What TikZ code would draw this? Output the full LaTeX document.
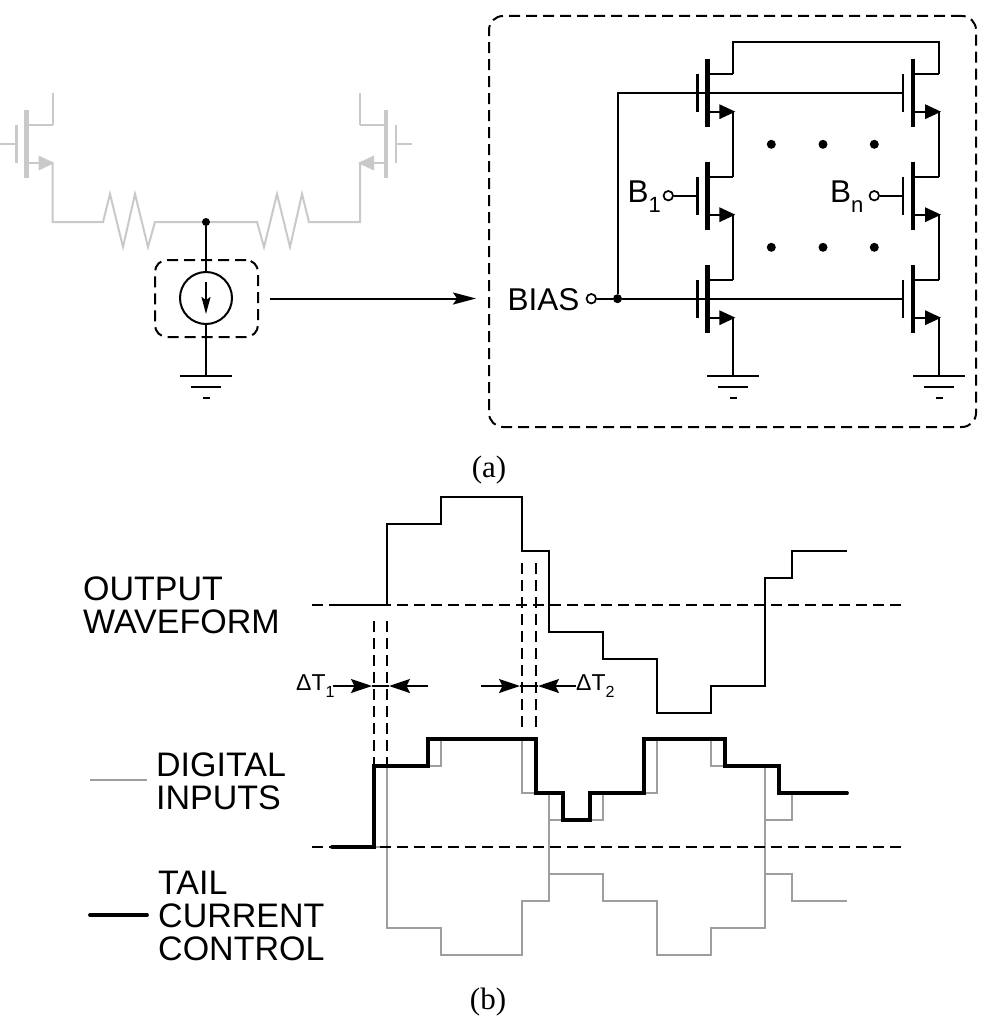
\documentclass[tikz,border=0pt]{standalone}
\usepackage{fontspec}
\setmainfont{Liberation Sans}
\newfontfamily\capfont{Liberation Serif}
\usetikzlibrary{arrows.meta}
\definecolor{lightgr}{gray}{0.79}
\definecolor{midgr}{gray}{0.62}
\newcommand{\subt}[1]{\raisebox{-0.32em}{\fontsize{0.7em}{0.7em}\selectfont #1}}
\tikzset{
  wire/.style={line width=2pt,line join=miter},
  dash box/.style={wire,dash pattern=on 11pt off 6pt,rounded corners=12pt},
  dash thin/.style={wire,dash pattern=on 10.5pt off 6.5pt},
  lab/.style={font=\fontsize{34}{34}\selectfont,inner sep=0pt,anchor=west},
  pinlab/.style={font=\fontsize{31.5}{31.5}\selectfont,inner sep=0pt,anchor=west},
  small lab/.style={font=\fontsize{23}{23}\selectfont,inner sep=0pt},
  caplab/.style={font=\capfont\fontsize{31}{31}\selectfont,inner sep=0pt},
  opendot/.style={circle,draw=black,line width=1.7pt,fill=white,inner sep=0pt,minimum size=9.5pt},
  soliddot/.style={circle,fill=black,inner sep=0pt,minimum size=9pt},
  head/.style={-{Stealth[length=21pt,width=14pt,inset=3.5pt]}},
}
% name, channel x, gate y, direction (1 or -1), colour
\newcommand{\mosdev}[5]{%
  \begin{scope}[shift={(#2,#3)},xscale=#4,#5]
    \coordinate (#1-g) at (-10,0);
    \coordinate (#1-d) at (26,-19);
    \coordinate (#1-s) at (26,19);
    \draw[line width=4.7pt] (0,-34) -- (0,34);
    \draw[line width=2.7pt] (-10,-19) -- (-10,19);
    \draw[wire] (0,-19) -- (#1-d);
    \draw[wire] (0,19) -- (14,19);
    \fill (12,11.5) -- (28,19) -- (12,26.5) -- cycle;
  \end{scope}}
% name, x, y
\newcommand{\gnddev}[3]{%
  \coordinate (#1) at (#2,#3);
  \draw[wire] (#2-26,#3) -- (#2+26,#3);
  \draw[wire] (#2-15,#3+11) -- (#2+15,#3+11);
  \draw[wire] (#2-3.5,#3+22) -- (#2+3.5,#3+22);}
\begin{document}
\begin{tikzpicture}[x=1pt,y=-1pt]
\useasboundingbox (0,0) rectangle (998,1025);
\fill[white] (0,0) rectangle (998,1025);

% ---- left circuit
\mosdev{ml}{26.5}{144}{1}{lightgr}
\mosdev{mr}{386}{144}{-1}{lightgr}
\coordinate (tail) at (206,222);
\begin{scope}[draw=lightgr]
\draw[wire] (0,144) -- (ml-g);
\draw[wire] (ml-d) -- ++(0,-32.5);
\draw[wire] (ml-s) -- (52.5,222) -- (103,222) -- (110,194) -- (123,247) -- (135,194) -- (148,247) -- (155,222) -- (tail);
\draw[wire] (412,144) -- (mr-g);
\draw[wire] (mr-d) -- ++(0,-32.5);
\draw[wire] (mr-s) -- (360,222) -- (309,222) -- (302,194) -- (290,247) -- (277,194) -- (264,247) -- (257,222) -- (tail);
\end{scope}
\node[soliddot,minimum size=8pt] (tailDot) at (tail) {};
\node[circle,draw=black,line width=2pt,minimum size=52pt,inner sep=0pt] (src) at (206,298) {};
\gnddev{gndA}{206}{375.5}
\draw[wire] (tailDot) -- (src);
\draw[wire] (src) -- (gndA);
\coordinate (srcT) at (206,282);
\coordinate (srcB) at (206,314);
\draw[wire,-{Stealth[length=17pt,width=9pt,inset=3pt]}] (srcT) -- (srcB);
\node[draw=black,dash box,minimum width=103pt,minimum height=77pt,inner sep=0pt] (srcBox) at (206.5,298.5) {};
\coordinate (arrA) at (270,298.5);
\coordinate (arrB) at (476,298.5);
\draw[wire,-{Stealth[length=23pt,width=12pt,inset=4pt]}] (arrA) -- (arrB);

% ---- right circuit box
\node[draw=black,dash box,rounded corners=14pt,minimum width=487pt,minimum height=411pt,inner sep=0pt] (bigBox) at (732.5,221.5) {};
\mosdev{a1}{707.3}{92.7}{1}{black}
\mosdev{a2}{707.3}{195.7}{1}{black}
\mosdev{a3}{707.3}{298.7}{1}{black}
\mosdev{b1}{913}{92.7}{1}{black}
\mosdev{b2}{913}{195.7}{1}{black}
\mosdev{b3}{913}{298.7}{1}{black}
\gnddev{gndB}{733.3}{375.7}
\gnddev{gndC}{939}{375.7}
\draw[wire] (a1-d) -- (733.3,42) -- (939,42) -- (b1-d);
\draw[wire] (a1-s) -- (a2-d);
\draw[wire] (a2-s) -- (a3-d);
\draw[wire] (a3-s) -- (gndB);
\draw[wire] (b1-s) -- (b2-d);
\draw[wire] (b2-s) -- (b3-d);
\draw[wire] (b3-s) -- (gndC);
\node[opendot] (biasPin) at (591.3,298.7) {};
\node[soliddot] (biasDot) at (617.5,298.7) {};
\draw[wire] (biasPin) -- (biasDot);
\draw[wire] (biasDot) -- (a3-g);
\draw[wire] (a3-g) -- (b3-g);
\draw[wire] (biasDot) -- (617.5,92.7) -- (a1-g);
\draw[wire] (a1-g) -- (b1-g);
\node[opendot] (b1Pin) at (668.3,195.7) {};
\node[opendot] (bnPin) at (874.3,195.7) {};
\draw[wire] (b1Pin) -- (a2-g);
\draw[wire] (bnPin) -- (b2-g);
\foreach \px/\py [count=\i] in {771.3/144.3,823/144.3,874.3/144.3,771.3/247.3,823/247.3,874.3/247.3}
  \node[soliddot] (ell\i) at (\px,\py) {};
\node[pinlab] (biasLab) at (507.5,299.5) {BIAS};
\node[pinlab] (bLabA) at (627.5,197) {B\subt{1}};
\node[pinlab] (bLabN) at (830,197) {B\subt{n}};
\node[caplab] (capA) at (489,470) {(a)};

% ---- waveforms
\draw[dash thin] (312,605) -- (903,605);
\draw[wire] (332,605) -- (387,605) -- (387,524) -- (441,524) -- (441,497) -- (522,497) -- (522,551) -- (549,551) -- (549,632) -- (603,632) -- (603,659) -- (657,659) -- (657,713) -- (711,713) -- (711,686) -- (765,686) -- (765,578) -- (792,578) -- (792,551) -- (847,551);
\draw[dash thin] (374,621) -- (374,765);
\draw[dash thin] (387,621) -- (387,765);
\draw[dash thin] (522,563) -- (522,727);
\draw[dash thin] (536,563) -- (536,727);
% delta-T arrows
\coordinate (p1) at (333,686);
\coordinate (p2) at (372,686);
\coordinate (p3) at (428,686);
\coordinate (p4) at (389,686);
\coordinate (p5) at (481,686);
\coordinate (p6) at (520,686);
\coordinate (p7) at (576,686);
\coordinate (p8) at (538,686);
\draw[wire,head] (p1) -- (p2);
\draw[wire,head] (p3) -- (p4);
\draw[wire] (p2) -- (p4);
\draw[wire,head] (p5) -- (p6);
\draw[wire,head] (p7) -- (p8);
\draw[wire] (p6) -- (p8);
\node[small lab,anchor=west] (dt1) at (296,686) {ΔT\subt{1}};
\node[small lab,anchor=west] (dt2) at (576,686) {ΔT\subt{2}};

% digital inputs
\draw[wire,midgr] (374,847) -- (387,847) -- (387,766) -- (441,766) -- (441,739) -- (522,739) -- (522,793) -- (549,793) -- (549,820) -- (603,820) -- (603,793) -- (657,793) -- (657,739) -- (711,739) -- (711,766) -- (765,766) -- (765,820) -- (792,820) -- (792,793) -- (847,793);
\draw[wire,midgr] (387,847) -- (387,928) -- (441,928) -- (441,955) -- (522,955) -- (522,901) -- (549,901) -- (549,874) -- (603,874) -- (603,901) -- (657,901) -- (657,955) -- (711,955) -- (711,928) -- (765,928) -- (765,874) -- (792,874) -- (792,901) -- (847,901);
\draw[wire,midgr] (549,820) -- (549,874);
\draw[wire,midgr] (765,820) -- (765,874);
% baseline
\draw[line width=2.6pt,dash pattern=on 10.5pt off 6.5pt] (312,847) -- (903,847);
% tail current
\draw[line width=3.8pt,line join=miter,line cap=round] (332,847) -- (374,847) -- (374,766) -- (428,766) -- (428,739) -- (536,739) -- (536,793) -- (563,793) -- (563,820) -- (590,820) -- (590,793) -- (644,793) -- (644,739) -- (725,739) -- (725,766) -- (779,766) -- (779,793) -- (847,793);

% legends
\coordinate (legA) at (90,780);
\coordinate (legB) at (147,780);
\coordinate (legC) at (90,915);
\coordinate (legD) at (147,915);
\draw[wire,midgr] (legA) -- (legB);
\draw[line width=3.8pt,line cap=round] (legC) -- (legD);
\node[lab] (t1) at (83,589) {OUTPUT};
\node[lab] (t2) at (83,622) {WAVEFORM};
\node[lab] (t3) at (156,765) {DIGITAL};
\node[lab] (t4) at (156,798) {INPUTS};
\node[lab] (t5) at (158,883) {TAIL};
\node[lab] (t6) at (158,916) {CURRENT};
\node[lab] (t7) at (158,949) {CONTROL};
\node[caplab] (capB) at (488,1002) {(b)};
\end{tikzpicture}
\end{document}
